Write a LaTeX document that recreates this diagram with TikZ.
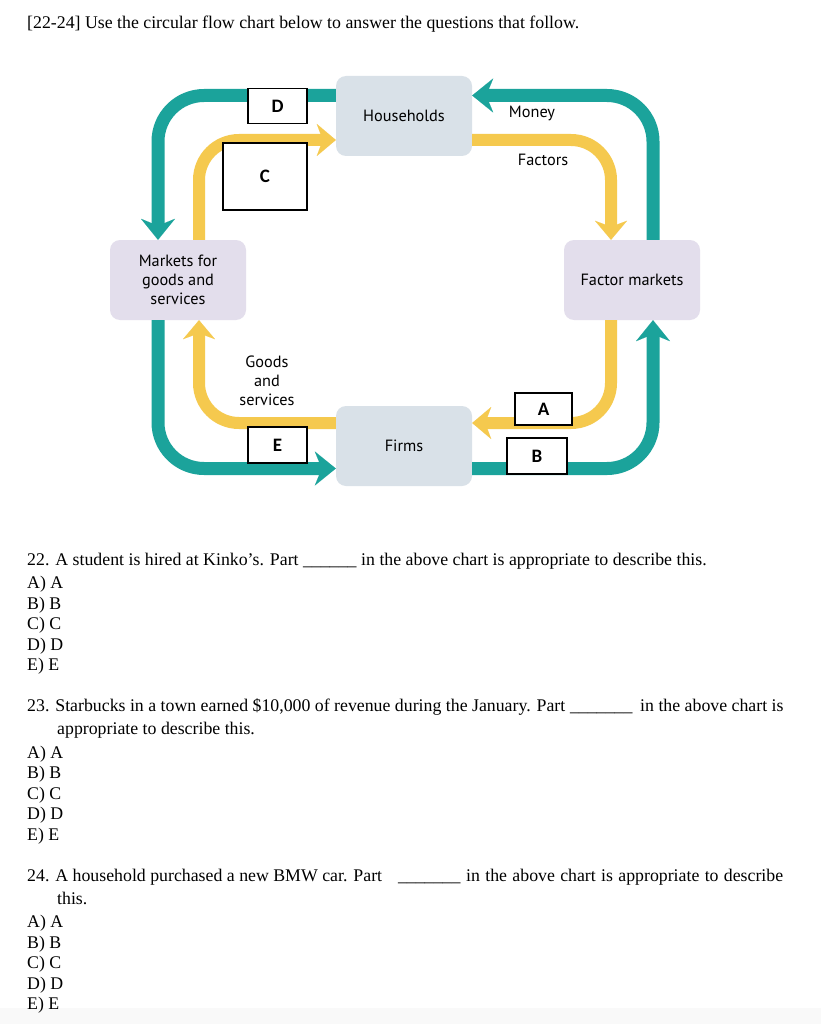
\documentclass[tikz,border=0pt]{standalone}
\usepackage{fontspec}
\setmainfont{Liberation Serif}
\newfontfamily\diagf{PT Sans}
\newfontfamily\boxf{Carlito}
\usetikzlibrary{arrows.meta}
\definecolor{tealc}{HTML}{1BA39B}
\definecolor{yelc}{HTML}{F5C94E}
\definecolor{hhfill}{HTML}{D9E1E8}
\definecolor{mkfill}{HTML}{E3DEEC}
\begin{document}
\begin{tikzpicture}[x=1pt,y=-1pt,
  sector/.style={rounded corners=10pt, minimum width=136pt, minimum height=80pt, inner sep=0pt, align=center, font=\diagf\fontsize{16.3}{19}\selectfont},
  hhstyle/.style={sector, fill=hhfill},
  mkstyle/.style={sector, fill=mkfill},
  money/.style={draw=tealc, line width=13pt, rounded corners=46pt, -{Stealth[length=21pt,width=34pt,inset=7pt,line width=0.01pt]}},
  goods/.style={draw=yelc, line width=12pt, rounded corners=40pt, -{Stealth[length=19pt,width=32pt,inset=6pt,line width=0.01pt]}},
  lbl/.style={font=\diagf\fontsize{16.3}{19}\selectfont, inner sep=0pt, align=center},
  letterbox/.style={draw=black, line width=1.3pt, fill=white, inner sep=0pt, font=\boxf\bfseries\fontsize{19}{21}\selectfont},
  body/.style={anchor=base west, inner sep=0pt, font=\fontsize{17.8}{21}\selectfont}
]
\useasboundingbox[fill=white] (0,0) rectangle (821,1024);
\fill[gray!5] (0,1008) rectangle (821,1024);

% sectors
\node[hhstyle] (hh) at (404,116) {Households};
\node[hhstyle] (firms) at (404,446) {Firms};
\node[mkstyle] (mkt) at (178,280) {Markets for\\goods and\\services};
\node[mkstyle] (fm) at (632,280) {Factor markets};

% money flows (teal)
\draw[money] ([yshift=20.5pt]hh.west) -| ([xshift=-20pt]mkt.north);
\draw[money] ([xshift=-20pt]mkt.south) |- ([yshift=-22.5pt]firms.west);
\draw[money] ([yshift=-22.5pt]firms.east) -| ([xshift=21pt]fm.south);
\draw[money] ([xshift=21pt]fm.north) |- ([yshift=20.5pt]hh.east);

% goods / factors flows (yellow)
\draw[goods] ([yshift=-24pt]hh.east) -| ([xshift=-21pt]fm.north);
\draw[goods] ([xshift=-21pt]fm.south) |- ([yshift=23pt]firms.east);
\draw[goods] ([yshift=23pt]firms.west) -| ([xshift=21pt]mkt.south);
\draw[goods] ([xshift=21pt]mkt.north) |- ([yshift=-24pt]hh.west);

% labels
\node[lbl] (lmoney) at (532,113) {Money};
\node[lbl] (lfactors) at (543,160) {Factors};
\node[lbl] (lgoods) at (267,381) {Goods\\and\\services};

% letter boxes
\node[letterbox, minimum width=59pt, minimum height=35pt] (bD) at (277.5,106) {D};
\node[letterbox, minimum width=84pt, minimum height=67pt] (bC) at (265,176.5) {C};
\node[letterbox, minimum width=59pt, minimum height=36pt] (bE) at (277.5,445) {E};
\node[letterbox, minimum width=57pt, minimum height=32pt] (bA) at (543.5,409) {A};
\node[letterbox, minimum width=60pt, minimum height=36pt] (bB) at (537,456) {B};

% text
\node[body] (title) at (27,29) {[22-24] Use the circular flow chart below to answer the questions that follow.};

\node[body] (q22a) at (27,565) {22. A student is hired at Kinko’s. Part};
\node[body] (q22b) at (303,565) {\_\_\_\_\_\_};
\node[body] (q22c) at (361,565) {in the above chart is appropriate to describe this.};
\node[body] (q22A) at (27,588) {A) A};
\node[body] (q22B) at (27,609) {B) B};
\node[body] (q22C) at (27,629) {C) C};
\node[body] (q22D) at (27,650) {D) D};
\node[body] (q22E) at (27,670) {E) E};

\node[body] (q23a) at (27,711) {23. Starbucks in a town earned \$10,000 of revenue during the January. Part};
\node[body] (q23b) at (570,711) {\_\_\_\_\_\_\_};
\node[body] (q23c) at (640,711) {in the above chart is};
\node[body] (q23d) at (57,734) {appropriate to describe this.};
\node[body] (q23A) at (27,758) {A) A};
\node[body] (q23B) at (27,778) {B) B};
\node[body] (q23C) at (27,799) {C) C};
\node[body] (q23D) at (27,819) {D) D};
\node[body] (q23E) at (27,840) {E) E};

\node[body] (q24a) at (27,881) {24. A household purchased a new BMW car. Part};
\node[body] (q24b) at (398,881) {\_\_\_\_\_\_\_};
\node[body] (q24c) at (466,881) {\makebox[317pt][s]{in the above chart is appropriate to describe}};
\node[body] (q24d) at (57,904) {this.};
\node[body] (q24A) at (27,927) {A) A};
\node[body] (q24B) at (27,948) {B) B};
\node[body] (q24C) at (27,968) {C) C};
\node[body] (q24D) at (27,989) {D) D};
\node[body] (q24E) at (27,1009) {E) E};
\end{tikzpicture}
\end{document}
